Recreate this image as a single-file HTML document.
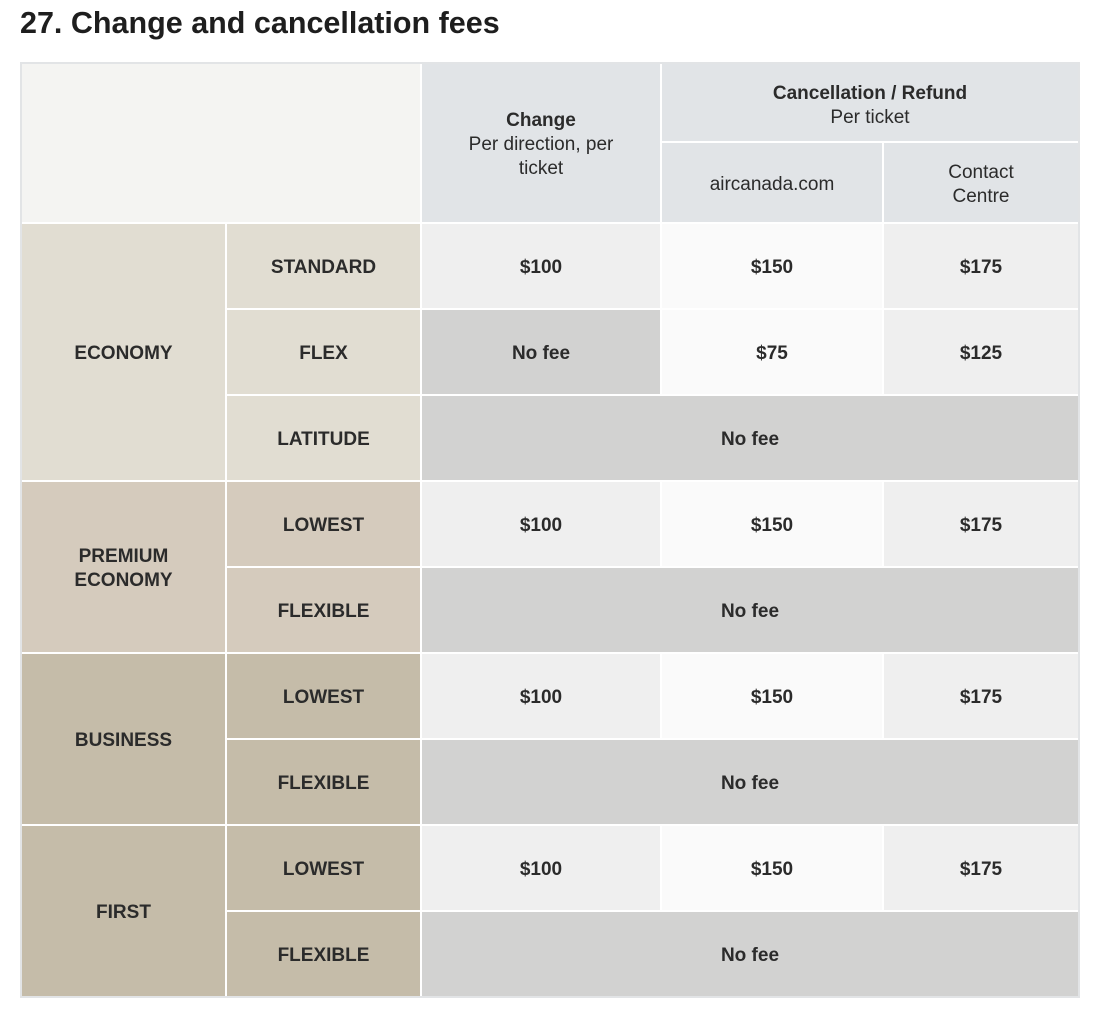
<!DOCTYPE html>
<html><head><style>
body{margin:0;width:1100px;height:1016px;background:#fff;font-family:"Liberation Sans",sans-serif;color:#2b2b2b;position:relative;overflow:hidden}
h1{position:absolute;left:20px;top:6px;margin:0;font-size:30.5px;font-weight:bold;color:#1e1e1e}
.c{position:absolute;display:flex;align-items:center;justify-content:center;text-align:center;font-size:19px;font-weight:bold;line-height:24px;padding-top:4px;box-sizing:border-box}
.n{font-weight:normal}
</style></head><body>
<h1>27. Change and cancellation fees</h1>
<div style="position:absolute;left:20px;top:62px;width:1060px;height:936px;background:#e2e4e6"></div>
<div style="position:absolute;left:22px;top:64px;width:1056px;height:932px;background:#fff"></div>
<div class="c" style="left:22px;top:64px;width:398px;height:158px;background:#f4f4f2"></div>
<div class="c" style="left:422px;top:64px;width:238px;height:158px;background:#e1e4e7;flex-direction:column"><span>Change</span><span class="n">Per direction, per<br>ticket</span></div>
<div class="c" style="left:662px;top:64px;width:416px;height:77px;background:#e1e4e7;flex-direction:column;padding-top:6px"><span>Cancellation / Refund</span><span class="n">Per ticket</span></div>
<div class="c n" style="left:662px;top:143px;width:220px;height:79px;background:#e1e4e7">aircanada.com</div>
<div class="c n" style="left:884px;top:143px;width:194px;height:79px;background:#e1e4e7">Contact<br>Centre</div>

<div class="c" style="left:22px;top:224px;width:203px;height:256px;background:#e1ddd2">ECONOMY</div>
<div class="c" style="left:22px;top:482px;width:203px;height:170px;background:#d5cbbd">PREMIUM<br>ECONOMY</div>
<div class="c" style="left:22px;top:654px;width:203px;height:170px;background:#c5bca9">BUSINESS</div>
<div class="c" style="left:22px;top:826px;width:203px;height:170px;background:#c5bca9">FIRST</div>

<div class="c" style="left:227px;top:224px;width:193px;height:84px;background:#e1ddd2">STANDARD</div>
<div class="c" style="left:227px;top:310px;width:193px;height:84px;background:#e1ddd2">FLEX</div>
<div class="c" style="left:227px;top:396px;width:193px;height:84px;background:#e1ddd2">LATITUDE</div>
<div class="c" style="left:227px;top:482px;width:193px;height:84px;background:#d5cbbd">LOWEST</div>
<div class="c" style="left:227px;top:568px;width:193px;height:84px;background:#d5cbbd">FLEXIBLE</div>
<div class="c" style="left:227px;top:654px;width:193px;height:84px;background:#c5bca9">LOWEST</div>
<div class="c" style="left:227px;top:740px;width:193px;height:84px;background:#c5bca9">FLEXIBLE</div>
<div class="c" style="left:227px;top:826px;width:193px;height:84px;background:#c5bca9">LOWEST</div>
<div class="c" style="left:227px;top:912px;width:193px;height:84px;background:#c5bca9">FLEXIBLE</div>

<div class="c" style="left:422px;top:224px;width:238px;height:84px;background:#efefef">$100</div>
<div class="c" style="left:662px;top:224px;width:220px;height:84px;background:#fafafa">$150</div>
<div class="c" style="left:884px;top:224px;width:194px;height:84px;background:#efefef">$175</div>
<div class="c" style="left:422px;top:310px;width:238px;height:84px;background:#d2d2d1">No fee</div>
<div class="c" style="left:662px;top:310px;width:220px;height:84px;background:#fafafa">$75</div>
<div class="c" style="left:884px;top:310px;width:194px;height:84px;background:#efefef">$125</div>
<div class="c" style="left:422px;top:396px;width:656px;height:84px;background:#d2d2d1">No fee</div>

<div class="c" style="left:422px;top:482px;width:238px;height:84px;background:#efefef">$100</div>
<div class="c" style="left:662px;top:482px;width:220px;height:84px;background:#fafafa">$150</div>
<div class="c" style="left:884px;top:482px;width:194px;height:84px;background:#efefef">$175</div>
<div class="c" style="left:422px;top:568px;width:656px;height:84px;background:#d2d2d1">No fee</div>

<div class="c" style="left:422px;top:654px;width:238px;height:84px;background:#efefef">$100</div>
<div class="c" style="left:662px;top:654px;width:220px;height:84px;background:#fafafa">$150</div>
<div class="c" style="left:884px;top:654px;width:194px;height:84px;background:#efefef">$175</div>
<div class="c" style="left:422px;top:740px;width:656px;height:84px;background:#d2d2d1">No fee</div>

<div class="c" style="left:422px;top:826px;width:238px;height:84px;background:#efefef">$100</div>
<div class="c" style="left:662px;top:826px;width:220px;height:84px;background:#fafafa">$150</div>
<div class="c" style="left:884px;top:826px;width:194px;height:84px;background:#efefef">$175</div>
<div class="c" style="left:422px;top:912px;width:656px;height:84px;background:#d2d2d1">No fee</div>
</body></html>
